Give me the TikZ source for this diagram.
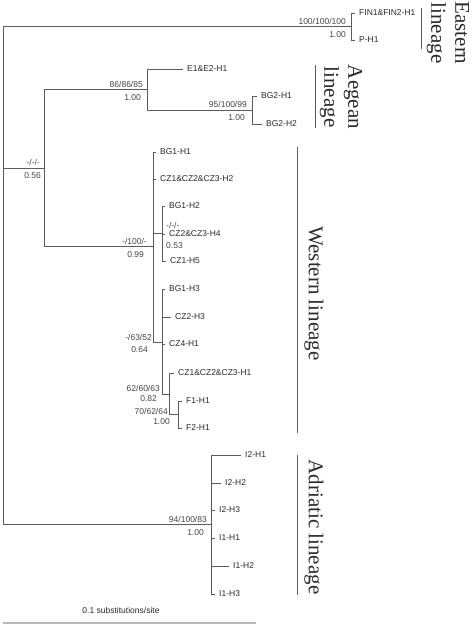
\documentclass[tikz,border=0pt]{standalone}
\usepackage{fontspec}
\setmainfont{Liberation Sans}
\newfontfamily\lineagefont{Liberation Serif}
\usepackage{tikz}
\usetikzlibrary{positioning}
\usepackage{xcolor}
\definecolor{TreeLine}{HTML}{5C5C5C}
\definecolor{TreeText}{HTML}{2A2A2A}
\definecolor{TreeSupport}{HTML}{454545}
\definecolor{TreeScale}{HTML}{B8B8B8}

\begin{document}
\begin{tikzpicture}[x=1pt,y=-1pt,font=\fontsize{8.5}{10}\selectfont,
  branch/.style={TreeLine,line width=0.9pt},
  tip/.style={anchor=west,inner xsep=4pt,inner ysep=0pt,text=TreeText},
  supabove/.style={anchor=base east,inner sep=0pt,yshift=2.5pt,text=TreeSupport},
  supbelow/.style={anchor=base east,inner sep=0pt,yshift=-10.5pt,text=TreeSupport},
  lineage/.style={font=\lineagefont\fontsize{21}{24}\selectfont,rotate=-90,
    align=center,inner sep=0pt,text=TreeText}]
  \useasboundingbox[fill=white] (0,0) rectangle (474,625);

  % inner nodes of the tree
  \coordinate (root) at (3,275.5);
  \coordinate (east) at (351,26.5);
  \coordinate (aw)   at (44,168);
  \coordinate (aeg)  at (147,89.5);
  \coordinate (bgtwo) at (252,110);
  \coordinate (west) at (153,246.5);
  \coordinate (wa)   at (162,233.5);
  \coordinate (wb)   at (162,342);
  \coordinate (wc)   at (169,394);
  \coordinate (wf)   at (178,414);
  \coordinate (adr)  at (211,524.5);

  % haplotypes
  \foreach \nm/\xx/\yy/\txt in {fin/355/13/FIN1\&FIN2-H1, ph/355/40/P-H1,
      ee/183/69/E1\&E2-H1, bgb/257/96/BG2-H1, bgc/262/124/BG2-H2,
      bgh/156/152/BG1-H1, czh/156/179/CZ1\&CZ2\&CZ3-H2,
      bgi/165/206/BG1-H2, czd/165/234/CZ2\&CZ3-H4, cze/166/261/CZ1-H5,
      bgj/165/289/BG1-H3, czf/171/317/CZ2-H3, czg/165/344/CZ4-H1,
      czk/174/373/CZ1\&CZ2\&CZ3-H1, fa/182/401/F1-H1, fb/182/428/F2-H1,
      ia/241/455/I2-H1, ib/221/483/I2-H2, ic/215/510/I2-H3,
      id/215/538/I1-H1, ie/229/566/I1-H2, ig/215/594/I1-H3}
    \node[tip] (\nm) at (\xx,\yy) {\txt};

  % branches
  \foreach \a/\b in {root/east, root/aw, root/adr, east/fin.west, east/ph.west,
      aw/aeg, aw/west, aeg/ee.west, aeg/bgtwo, bgtwo/bgb.west, bgtwo/bgc.west,
      west/bgh.west, west/czh.west, west/wa, west/wb,
      wa/bgi.west, wa/czd.west, wa/cze.west,
      wb/bgj.west, wb/czf.west, wb/czg.west, wb/wc,
      wc/czk.west, wc/wf, wf/fa.west, wf/fb.west,
      adr/ia.west, adr/ib.west, adr/ic.west, adr/id.west, adr/ie.west, adr/ig.west}
    \draw[branch] (\a) |- (\b);

  % support values
  \node[supabove,xshift=-5pt] (eastup) at (east) {100/100/100};
  \node[supbelow,xshift=-5pt] (eastdn) at (east) {1.00};
  \node[supabove,xshift=-4pt] (awup) at (aw) {-/-/-};
  \node[supbelow,xshift=-3pt] (awdn) at (aw) {0.56};
  \node[supabove,xshift=-4pt] (aegup) at (aeg) {86/86/85};
  \node[supbelow,xshift=-6pt] (aegdn) at (aeg) {1.00};
  \node[supabove,xshift=-5pt] (bgup) at (bgtwo) {95/100/99};
  \node[supbelow,xshift=-7pt] (bgdn) at (bgtwo) {1.00};
  \node[supabove,xshift=-6pt] (westup) at (west) {-/100/-};
  \node[supbelow,xshift=-9pt] (westdn) at (west) {0.99};
  \node[anchor=base west,inner sep=0pt,text=TreeSupport,xshift=4pt,yshift=5.5pt]
    (waup) at (wa) {-/-/-};
  \node[anchor=base west,inner sep=0pt,text=TreeSupport,xshift=4pt,yshift=-14.5pt]
    (wadn) at (wa) {0.53};
  \node[supabove,xshift=-10pt,yshift=-1pt] (wbup) at (wb) {-/63/52};
  \node[supbelow,xshift=-14pt] (wbdn) at (wb) {0.64};
  \node[supabove,xshift=-9pt,yshift=0.5pt] (wcup) at (wc) {62/60/63};
  \node[supbelow,xshift=-12pt,yshift=3pt] (wcdn) at (wc) {0.82};
  \node[supabove,xshift=-10pt,yshift=-2.5pt] (wfup) at (wf) {70/62/64};
  \node[supbelow,xshift=-8pt,yshift=0.5pt] (wfdn) at (wf) {1.00};
  \node[supabove,xshift=-4pt] (adrup) at (adr) {94/100/83};
  \node[supbelow,xshift=-7pt] (adrdn) at (adr) {1.00};

  % lineages
  \draw[TreeLine,line width=0.9pt] (421,8) -- (421,49);
  \draw[TreeLine,line width=0.9pt] (315,65) -- (315,128);
  \draw[TreeLine,line width=0.9pt] (297,147) -- (297,433);
  \draw[TreeLine,line width=0.9pt] (297,455) -- (297,595);
  \node[lineage] (eastlab) at (448,33) {Eastern\\lineage};
  \node[lineage] (aeglab) at (341,97) {Aegean\\lineage};
  \node[lineage] (westlab) at (314,293.5) {Western lineage};
  \node[lineage] (adrlab) at (314,527) {Adriatic lineage};

  % scale
  \node[text=TreeText] (scalelab) at (121,610) {0.1 substitutions/site};
  \draw[TreeScale,line width=2.2pt] (3,623) -- (256,623);
\end{tikzpicture}
\end{document}
